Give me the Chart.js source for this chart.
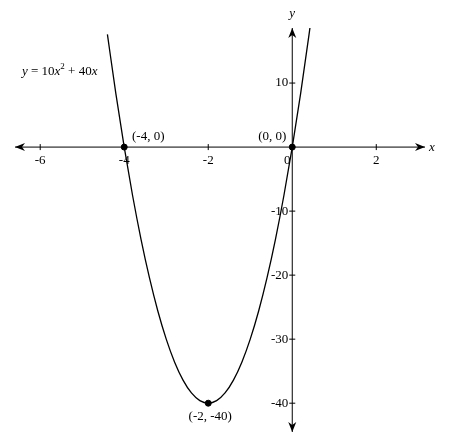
<html>
<head>
<script src="https://cdn.jsdelivr.net/npm/chart.js@4"></script>
<style>
  body { margin: 0; background: #fff; }
  #wrap { width: 450px; height: 444px; }
</style>
</head>
<body>
<div id="wrap"><canvas id="myChart"></canvas></div>
<script>
// values (curve y = 10x^2 + 40x)
var curveX = [-4.4, -4.2, -4, -3.8, -3.6, -3.4, -3.2, -3, -2.8, -2.6, -2.4, -2.2, -2, -1.8, -1.6, -1.4, -1.2, -1, -0.8, -0.6, -0.4, -0.2, 0, 0.2, 0.4, 0.5];
var curveY = [17.6, 8.4, 0, -7.6, -14.4, -20.4, -25.6, -30, -33.6, -36.4, -38.4, -39.6, -40, -39.6, -38.4, -36.4, -33.6, -30, -25.6, -20.4, -14.4, -7.6, 0, 8.4, 17.6, 22.5];
var markX = [-4, 0, -2];
var markY = [0, 0, -40];
var markLabels = ['(-4, 0)', '(0, 0)', '(-2, -40)'];
var xTicks = [-6, -4, -2, 0, 2];
var yTicks = [10, -10, -20, -30, -40];

var serif = '"Liberation Serif", "DejaVu Serif", serif';

var axesPlugin = {
    id: 'axes',
    beforeDatasetsDraw: function (chart) {
        var ctx = chart.ctx, xs = chart.scales.x, ys = chart.scales.y;
        var x0 = xs.getPixelForValue(0), y0 = ys.getPixelForValue(0);
        var L = xs.left, R = xs.right, T = ys.top, B = ys.bottom;
        ctx.save();
        ctx.strokeStyle = '#000'; ctx.fillStyle = '#000'; ctx.lineWidth = 1;
        ctx.beginPath();
        ctx.moveTo(L, y0); ctx.lineTo(R, y0);
        ctx.moveTo(x0, T); ctx.lineTo(x0, B);
        ctx.stroke();
        function arrow(px, py, dx, dy) {
            ctx.beginPath();
            ctx.moveTo(px, py);
            ctx.lineTo(px - dx * 10 - dy * 4, py - dy * 10 - dx * 4);
            ctx.lineTo(px - dx * 7, py - dy * 7);
            ctx.lineTo(px - dx * 10 + dy * 4, py - dy * 10 + dx * 4);
            ctx.closePath(); ctx.fill();
        }
        arrow(L, y0, -1, 0); arrow(R, y0, 1, 0);
        arrow(x0, T, 0, -1); arrow(x0, B, 0, 1);
        ctx.font = '13px ' + serif;
        ctx.textAlign = 'center'; ctx.textBaseline = 'top';
        xTicks.forEach(function (v) {
            var p = xs.getPixelForValue(v);
            ctx.beginPath(); ctx.moveTo(p, y0 - 3); ctx.lineTo(p, y0 + 3); ctx.stroke();
            ctx.fillText(String(v), v === 0 ? p - 5 : p, y0 + 7);
        });
        ctx.textAlign = 'right'; ctx.textBaseline = 'middle';
        yTicks.forEach(function (v) {
            var p = ys.getPixelForValue(v);
            ctx.beginPath(); ctx.moveTo(x0 - 3, p); ctx.lineTo(x0 + 3, p); ctx.stroke();
            ctx.fillText(String(v), x0 - 4, p);
        });
        ctx.font = 'italic 13px ' + serif;
        ctx.textAlign = 'left';
        ctx.fillText('x', R + 4, y0);
        ctx.fillText('y', x0 - 3, T - 14);
        ctx.font = '13px ' + serif;
        ctx.textAlign = 'center'; ctx.textBaseline = 'bottom';
        ctx.fillText(markLabels[0], xs.getPixelForValue(markX[0]) + 24, y0 - 4);
        ctx.fillText(markLabels[1], x0 - 20, y0 - 4);
        ctx.textBaseline = 'top';
        ctx.fillText(markLabels[2], xs.getPixelForValue(markX[2]) + 2, ys.getPixelForValue(markY[2]) + 7);
        // equation label
        ctx.textAlign = 'left'; ctx.textBaseline = 'alphabetic';
        var ex = 22, ey = 75;
        ctx.font = 'italic 13px ' + serif; ctx.fillText('y', ex, ey); ex += ctx.measureText('y').width;
        ctx.font = '13px ' + serif; ctx.fillText(' = 10', ex, ey); ex += ctx.measureText(' = 10').width;
        ctx.font = 'italic 13px ' + serif; ctx.fillText('x', ex, ey); ex += ctx.measureText('x').width;
        ctx.font = '9px ' + serif; ctx.fillText('2', ex, ey - 6); ex += ctx.measureText('2').width;
        ctx.font = '13px ' + serif; ctx.fillText(' + 40', ex, ey); ex += ctx.measureText(' + 40').width;
        ctx.font = 'italic 13px ' + serif; ctx.fillText('x', ex, ey);
        ctx.restore();
    }
};

var curveData = curveX.map(function (x, i) { return { x: x, y: curveY[i] }; });
var markData = markX.map(function (x, i) { return { x: x, y: markY[i] }; });

new Chart(document.getElementById('myChart'), {
    type: 'scatter',
    data: {
        datasets: [
            { data: curveData, showLine: true, borderColor: '#000', borderWidth: 1.3, pointRadius: 0, tension: 0.4, cubicInterpolationMode: 'monotone' },
            { data: markData, pointRadius: 3, backgroundColor: '#000', borderColor: '#000' }
        ]
    },
    options: {
        responsive: true, maintainAspectRatio: false, animation: false,
        layout: { padding: { left: 15, right: 25, top: 28, bottom: 12 } },
        plugins: { legend: { display: false }, tooltip: { enabled: false } },
        scales: {
            x: { type: 'linear', min: -6.6, max: 3.16, display: false },
            y: { type: 'linear', min: -44.5, max: 18.6, display: false }
        }
    },
    plugins: [axesPlugin]
});
</script>
</body>
</html>
